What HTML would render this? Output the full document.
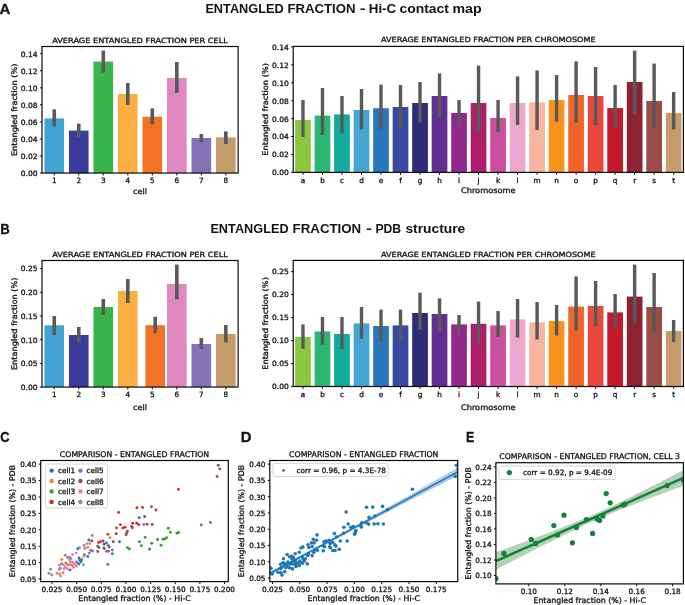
<!DOCTYPE html>
<html lang="en"><head><meta charset="utf-8"><title>Entangled fraction figure</title>
<style>
html,body{margin:0;padding:0;background:#fff;}
body{width:685px;height:605px;overflow:hidden;}
svg{display:block;}
text{white-space:pre;}
.pl text{stroke:#111;stroke-width:0.3;stroke-linejoin:round;}
</style></head><body>
<svg width="685" height="605" viewBox="0 0 685 605">
<rect width="685" height="605" fill="#fff"/>
<g class="pl" font-family="'DejaVu Sans', 'Liberation Sans', sans-serif" fill="#111">
<rect x="44.46" y="118.40" width="19.60" height="54.65" fill="#41a3d4"/>
<rect x="68.97" y="130.60" width="19.60" height="42.45" fill="#3b3b9e"/>
<rect x="93.48" y="61.60" width="19.60" height="111.45" fill="#37b44a"/>
<rect x="117.99" y="94.00" width="19.60" height="79.05" fill="#fbae42"/>
<rect x="142.50" y="116.80" width="19.60" height="56.25" fill="#f37326"/>
<rect x="167.01" y="78.00" width="19.60" height="95.05" fill="#e087c0"/>
<rect x="191.52" y="138.00" width="19.60" height="35.05" fill="#8671b9"/>
<rect x="216.03" y="137.40" width="19.60" height="35.65" fill="#c69c6d"/>
<rect x="52.46" y="109.40" width="3.60" height="17.00" fill="#595959"/>
<rect x="76.97" y="123.60" width="3.60" height="13.40" fill="#595959"/>
<rect x="101.48" y="50.60" width="3.60" height="22.00" fill="#595959"/>
<rect x="125.99" y="83.00" width="3.60" height="22.00" fill="#595959"/>
<rect x="150.50" y="108.40" width="3.60" height="16.00" fill="#595959"/>
<rect x="175.01" y="62.00" width="3.60" height="31.00" fill="#595959"/>
<rect x="199.52" y="134.00" width="3.60" height="8.40" fill="#595959"/>
<rect x="224.03" y="131.40" width="3.60" height="12.60" fill="#595959"/>
<rect x="42.00" y="46.50" width="196.10" height="126.55" fill="none" stroke="#0a0a0a" stroke-width="1.2"/>
<line x1="39.95" y1="173.05" x2="42.00" y2="173.05" stroke="#0a0a0a" stroke-width="1.0"/>
<text x="20.80" y="175.91" font-size="7.3" textLength="16.90" lengthAdjust="spacingAndGlyphs" >0.00</text>
<line x1="39.95" y1="156.00" x2="42.00" y2="156.00" stroke="#0a0a0a" stroke-width="1.0"/>
<text x="20.80" y="158.86" font-size="7.3" textLength="16.90" lengthAdjust="spacingAndGlyphs" >0.02</text>
<line x1="39.95" y1="138.95" x2="42.00" y2="138.95" stroke="#0a0a0a" stroke-width="1.0"/>
<text x="20.80" y="141.81" font-size="7.3" textLength="16.90" lengthAdjust="spacingAndGlyphs" >0.04</text>
<line x1="39.95" y1="121.90" x2="42.00" y2="121.90" stroke="#0a0a0a" stroke-width="1.0"/>
<text x="20.80" y="124.76" font-size="7.3" textLength="16.90" lengthAdjust="spacingAndGlyphs" >0.06</text>
<line x1="39.95" y1="104.85" x2="42.00" y2="104.85" stroke="#0a0a0a" stroke-width="1.0"/>
<text x="20.80" y="107.71" font-size="7.3" textLength="16.90" lengthAdjust="spacingAndGlyphs" >0.08</text>
<line x1="39.95" y1="87.80" x2="42.00" y2="87.80" stroke="#0a0a0a" stroke-width="1.0"/>
<text x="20.80" y="90.66" font-size="7.3" textLength="16.90" lengthAdjust="spacingAndGlyphs" >0.10</text>
<line x1="39.95" y1="70.75" x2="42.00" y2="70.75" stroke="#0a0a0a" stroke-width="1.0"/>
<text x="20.80" y="73.61" font-size="7.3" textLength="16.90" lengthAdjust="spacingAndGlyphs" >0.12</text>
<line x1="39.95" y1="53.70" x2="42.00" y2="53.70" stroke="#0a0a0a" stroke-width="1.0"/>
<text x="20.80" y="56.56" font-size="7.3" textLength="16.90" lengthAdjust="spacingAndGlyphs" >0.14</text>
<line x1="54.26" y1="173.05" x2="54.26" y2="175.45" stroke="#0a0a0a" stroke-width="1.0"/>
<text x="54.26" y="183.35" font-size="7.3" text-anchor="middle" >1</text>
<line x1="78.77" y1="173.05" x2="78.77" y2="175.45" stroke="#0a0a0a" stroke-width="1.0"/>
<text x="78.77" y="183.35" font-size="7.3" text-anchor="middle" >2</text>
<line x1="103.28" y1="173.05" x2="103.28" y2="175.45" stroke="#0a0a0a" stroke-width="1.0"/>
<text x="103.28" y="183.35" font-size="7.3" text-anchor="middle" >3</text>
<line x1="127.79" y1="173.05" x2="127.79" y2="175.45" stroke="#0a0a0a" stroke-width="1.0"/>
<text x="127.79" y="183.35" font-size="7.3" text-anchor="middle" >4</text>
<line x1="152.30" y1="173.05" x2="152.30" y2="175.45" stroke="#0a0a0a" stroke-width="1.0"/>
<text x="152.30" y="183.35" font-size="7.3" text-anchor="middle" >5</text>
<line x1="176.81" y1="173.05" x2="176.81" y2="175.45" stroke="#0a0a0a" stroke-width="1.0"/>
<text x="176.81" y="183.35" font-size="7.3" text-anchor="middle" >6</text>
<line x1="201.32" y1="173.05" x2="201.32" y2="175.45" stroke="#0a0a0a" stroke-width="1.0"/>
<text x="201.32" y="183.35" font-size="7.3" text-anchor="middle" >7</text>
<line x1="225.83" y1="173.05" x2="225.83" y2="175.45" stroke="#0a0a0a" stroke-width="1.0"/>
<text x="225.83" y="183.35" font-size="7.3" text-anchor="middle" >8</text>
<text x="52.15" y="42.60" font-size="7.1" textLength="175.80" lengthAdjust="spacingAndGlyphs" >AVERAGE ENTANGLED FRACTION PER CELL</text>
<text x="133.05" y="193.60" font-size="7.7" textLength="14.00" lengthAdjust="spacingAndGlyphs" >cell</text>
<text transform="translate(16.90,156.07) rotate(-90)" font-size="7.7" textLength="92.60" lengthAdjust="spacingAndGlyphs">Entangled fraction (%)</text>
<rect x="295.11" y="120.00" width="15.70" height="52.40" fill="#8cc63f"/>
<rect x="314.62" y="115.60" width="15.70" height="56.80" fill="#2cb673"/>
<rect x="334.13" y="114.40" width="15.70" height="58.00" fill="#10ab9d"/>
<rect x="353.64" y="110.00" width="15.70" height="62.40" fill="#45a5d5"/>
<rect x="373.15" y="108.20" width="15.70" height="64.20" fill="#2a76bc"/>
<rect x="392.66" y="107.00" width="15.70" height="65.40" fill="#3949a3"/>
<rect x="412.17" y="103.00" width="15.70" height="69.40" fill="#2f2b78"/>
<rect x="431.68" y="96.00" width="15.70" height="76.40" fill="#632d91"/>
<rect x="451.19" y="113.00" width="15.70" height="59.40" fill="#92278f"/>
<rect x="470.70" y="103.00" width="15.70" height="69.40" fill="#ae1f6b"/>
<rect x="490.21" y="118.00" width="15.70" height="54.40" fill="#cb4f9f"/>
<rect x="509.72" y="103.00" width="15.70" height="69.40" fill="#eda6cd"/>
<rect x="529.23" y="102.40" width="15.70" height="70.00" fill="#f8b49f"/>
<rect x="548.74" y="100.00" width="15.70" height="72.40" fill="#f7941e"/>
<rect x="568.25" y="95.00" width="15.70" height="77.40" fill="#f1632a"/>
<rect x="587.76" y="96.00" width="15.70" height="76.40" fill="#e9473b"/>
<rect x="607.27" y="108.00" width="15.70" height="64.40" fill="#c2192d"/>
<rect x="626.78" y="82.00" width="15.70" height="90.40" fill="#8b2332"/>
<rect x="646.29" y="101.00" width="15.70" height="71.40" fill="#9a4d45"/>
<rect x="665.80" y="113.00" width="15.70" height="59.40" fill="#c69c6d"/>
<rect x="301.26" y="100.00" width="3.40" height="37.00" fill="#595959"/>
<rect x="320.77" y="88.00" width="3.40" height="47.00" fill="#595959"/>
<rect x="340.28" y="96.00" width="3.40" height="37.40" fill="#595959"/>
<rect x="359.79" y="89.00" width="3.40" height="40.40" fill="#595959"/>
<rect x="379.30" y="84.60" width="3.40" height="44.80" fill="#595959"/>
<rect x="398.81" y="85.00" width="3.40" height="43.00" fill="#595959"/>
<rect x="418.32" y="82.00" width="3.40" height="40.40" fill="#595959"/>
<rect x="437.83" y="73.40" width="3.40" height="44.60" fill="#595959"/>
<rect x="457.34" y="100.00" width="3.40" height="25.60" fill="#595959"/>
<rect x="476.85" y="65.60" width="3.40" height="67.00" fill="#595959"/>
<rect x="496.36" y="100.00" width="3.40" height="32.00" fill="#595959"/>
<rect x="515.87" y="76.40" width="3.40" height="48.60" fill="#595959"/>
<rect x="535.38" y="70.40" width="3.40" height="59.60" fill="#595959"/>
<rect x="554.89" y="75.00" width="3.40" height="46.60" fill="#595959"/>
<rect x="574.40" y="61.40" width="3.40" height="61.60" fill="#595959"/>
<rect x="593.91" y="67.00" width="3.40" height="58.00" fill="#595959"/>
<rect x="613.42" y="85.00" width="3.40" height="43.00" fill="#595959"/>
<rect x="632.93" y="50.60" width="3.40" height="63.40" fill="#595959"/>
<rect x="652.44" y="63.60" width="3.40" height="64.40" fill="#595959"/>
<rect x="671.95" y="92.00" width="3.40" height="37.40" fill="#595959"/>
<rect x="293.20" y="46.40" width="390.20" height="126.00" fill="none" stroke="#0a0a0a" stroke-width="1.2"/>
<line x1="291.15" y1="172.40" x2="293.20" y2="172.40" stroke="#0a0a0a" stroke-width="1.0"/>
<text x="272.00" y="175.26" font-size="7.3" textLength="16.90" lengthAdjust="spacingAndGlyphs" >0.00</text>
<line x1="291.15" y1="154.48" x2="293.20" y2="154.48" stroke="#0a0a0a" stroke-width="1.0"/>
<text x="272.00" y="157.34" font-size="7.3" textLength="16.90" lengthAdjust="spacingAndGlyphs" >0.02</text>
<line x1="291.15" y1="136.56" x2="293.20" y2="136.56" stroke="#0a0a0a" stroke-width="1.0"/>
<text x="272.00" y="139.42" font-size="7.3" textLength="16.90" lengthAdjust="spacingAndGlyphs" >0.04</text>
<line x1="291.15" y1="118.64" x2="293.20" y2="118.64" stroke="#0a0a0a" stroke-width="1.0"/>
<text x="272.00" y="121.50" font-size="7.3" textLength="16.90" lengthAdjust="spacingAndGlyphs" >0.06</text>
<line x1="291.15" y1="100.72" x2="293.20" y2="100.72" stroke="#0a0a0a" stroke-width="1.0"/>
<text x="272.00" y="103.58" font-size="7.3" textLength="16.90" lengthAdjust="spacingAndGlyphs" >0.08</text>
<line x1="291.15" y1="82.80" x2="293.20" y2="82.80" stroke="#0a0a0a" stroke-width="1.0"/>
<text x="272.00" y="85.66" font-size="7.3" textLength="16.90" lengthAdjust="spacingAndGlyphs" >0.10</text>
<line x1="291.15" y1="64.88" x2="293.20" y2="64.88" stroke="#0a0a0a" stroke-width="1.0"/>
<text x="272.00" y="67.74" font-size="7.3" textLength="16.90" lengthAdjust="spacingAndGlyphs" >0.12</text>
<line x1="291.15" y1="46.96" x2="293.20" y2="46.96" stroke="#0a0a0a" stroke-width="1.0"/>
<text x="272.00" y="49.82" font-size="7.3" textLength="16.90" lengthAdjust="spacingAndGlyphs" >0.14</text>
<line x1="302.96" y1="172.40" x2="302.96" y2="174.80" stroke="#0a0a0a" stroke-width="1.0"/>
<text x="302.96" y="182.70" font-size="7.3" text-anchor="middle" >a</text>
<line x1="322.47" y1="172.40" x2="322.47" y2="174.80" stroke="#0a0a0a" stroke-width="1.0"/>
<text x="322.47" y="182.70" font-size="7.3" text-anchor="middle" >b</text>
<line x1="341.98" y1="172.40" x2="341.98" y2="174.80" stroke="#0a0a0a" stroke-width="1.0"/>
<text x="341.98" y="182.70" font-size="7.3" text-anchor="middle" >c</text>
<line x1="361.49" y1="172.40" x2="361.49" y2="174.80" stroke="#0a0a0a" stroke-width="1.0"/>
<text x="361.49" y="182.70" font-size="7.3" text-anchor="middle" >d</text>
<line x1="381.00" y1="172.40" x2="381.00" y2="174.80" stroke="#0a0a0a" stroke-width="1.0"/>
<text x="381.00" y="182.70" font-size="7.3" text-anchor="middle" >e</text>
<line x1="400.51" y1="172.40" x2="400.51" y2="174.80" stroke="#0a0a0a" stroke-width="1.0"/>
<text x="400.51" y="182.70" font-size="7.3" text-anchor="middle" >f</text>
<line x1="420.02" y1="172.40" x2="420.02" y2="174.80" stroke="#0a0a0a" stroke-width="1.0"/>
<text x="420.02" y="182.70" font-size="7.3" text-anchor="middle" >g</text>
<line x1="439.53" y1="172.40" x2="439.53" y2="174.80" stroke="#0a0a0a" stroke-width="1.0"/>
<text x="439.53" y="182.70" font-size="7.3" text-anchor="middle" >h</text>
<line x1="459.04" y1="172.40" x2="459.04" y2="174.80" stroke="#0a0a0a" stroke-width="1.0"/>
<text x="459.04" y="182.70" font-size="7.3" text-anchor="middle" >i</text>
<line x1="478.55" y1="172.40" x2="478.55" y2="174.80" stroke="#0a0a0a" stroke-width="1.0"/>
<text x="478.55" y="182.70" font-size="7.3" text-anchor="middle" >j</text>
<line x1="498.06" y1="172.40" x2="498.06" y2="174.80" stroke="#0a0a0a" stroke-width="1.0"/>
<text x="498.06" y="182.70" font-size="7.3" text-anchor="middle" >k</text>
<line x1="517.57" y1="172.40" x2="517.57" y2="174.80" stroke="#0a0a0a" stroke-width="1.0"/>
<text x="517.57" y="182.70" font-size="7.3" text-anchor="middle" >l</text>
<line x1="537.08" y1="172.40" x2="537.08" y2="174.80" stroke="#0a0a0a" stroke-width="1.0"/>
<text x="537.08" y="182.70" font-size="7.3" text-anchor="middle" >m</text>
<line x1="556.59" y1="172.40" x2="556.59" y2="174.80" stroke="#0a0a0a" stroke-width="1.0"/>
<text x="556.59" y="182.70" font-size="7.3" text-anchor="middle" >n</text>
<line x1="576.10" y1="172.40" x2="576.10" y2="174.80" stroke="#0a0a0a" stroke-width="1.0"/>
<text x="576.10" y="182.70" font-size="7.3" text-anchor="middle" >o</text>
<line x1="595.61" y1="172.40" x2="595.61" y2="174.80" stroke="#0a0a0a" stroke-width="1.0"/>
<text x="595.61" y="182.70" font-size="7.3" text-anchor="middle" >p</text>
<line x1="615.12" y1="172.40" x2="615.12" y2="174.80" stroke="#0a0a0a" stroke-width="1.0"/>
<text x="615.12" y="182.70" font-size="7.3" text-anchor="middle" >q</text>
<line x1="634.63" y1="172.40" x2="634.63" y2="174.80" stroke="#0a0a0a" stroke-width="1.0"/>
<text x="634.63" y="182.70" font-size="7.3" text-anchor="middle" >r</text>
<line x1="654.14" y1="172.40" x2="654.14" y2="174.80" stroke="#0a0a0a" stroke-width="1.0"/>
<text x="654.14" y="182.70" font-size="7.3" text-anchor="middle" >s</text>
<line x1="673.65" y1="172.40" x2="673.65" y2="174.80" stroke="#0a0a0a" stroke-width="1.0"/>
<text x="673.65" y="182.70" font-size="7.3" text-anchor="middle" >t</text>
<text x="381.00" y="42.40" font-size="7.1" textLength="214.60" lengthAdjust="spacingAndGlyphs" >AVERAGE ENTANGLED FRACTION PER CHROMOSOME</text>
<text x="460.90" y="192.70" font-size="7.7" textLength="54.80" lengthAdjust="spacingAndGlyphs" >Chromosome</text>
<text transform="translate(267.80,155.70) rotate(-90)" font-size="7.7" textLength="92.60" lengthAdjust="spacingAndGlyphs">Entangled fraction (%)</text>
<rect x="44.46" y="325.30" width="19.60" height="61.75" fill="#41a3d4"/>
<rect x="68.97" y="335.00" width="19.60" height="52.05" fill="#3b3b9e"/>
<rect x="93.48" y="307.00" width="19.60" height="80.05" fill="#37b44a"/>
<rect x="117.99" y="291.00" width="19.60" height="96.05" fill="#fbae42"/>
<rect x="145.40" y="325.20" width="19.60" height="61.85" fill="#f37326"/>
<rect x="167.01" y="284.00" width="19.60" height="103.05" fill="#e087c0"/>
<rect x="191.52" y="344.00" width="19.60" height="43.05" fill="#8671b9"/>
<rect x="216.03" y="334.00" width="19.60" height="53.05" fill="#c69c6d"/>
<rect x="52.46" y="316.00" width="3.60" height="19.00" fill="#595959"/>
<rect x="76.97" y="327.00" width="3.60" height="15.60" fill="#595959"/>
<rect x="101.48" y="299.00" width="3.60" height="16.00" fill="#595959"/>
<rect x="125.99" y="279.00" width="3.60" height="24.00" fill="#595959"/>
<rect x="153.40" y="316.80" width="3.60" height="16.40" fill="#595959"/>
<rect x="175.01" y="264.60" width="3.60" height="34.80" fill="#595959"/>
<rect x="199.52" y="338.00" width="3.60" height="11.00" fill="#595959"/>
<rect x="224.03" y="325.00" width="3.60" height="17.40" fill="#595959"/>
<rect x="42.00" y="260.50" width="196.10" height="126.55" fill="none" stroke="#0a0a0a" stroke-width="1.2"/>
<line x1="39.95" y1="387.10" x2="42.00" y2="387.10" stroke="#0a0a0a" stroke-width="1.0"/>
<text x="20.80" y="389.96" font-size="7.3" textLength="16.90" lengthAdjust="spacingAndGlyphs" >0.00</text>
<line x1="39.95" y1="363.40" x2="42.00" y2="363.40" stroke="#0a0a0a" stroke-width="1.0"/>
<text x="20.80" y="366.26" font-size="7.3" textLength="16.90" lengthAdjust="spacingAndGlyphs" >0.05</text>
<line x1="39.95" y1="339.70" x2="42.00" y2="339.70" stroke="#0a0a0a" stroke-width="1.0"/>
<text x="20.80" y="342.56" font-size="7.3" textLength="16.90" lengthAdjust="spacingAndGlyphs" >0.10</text>
<line x1="39.95" y1="316.00" x2="42.00" y2="316.00" stroke="#0a0a0a" stroke-width="1.0"/>
<text x="20.80" y="318.86" font-size="7.3" textLength="16.90" lengthAdjust="spacingAndGlyphs" >0.15</text>
<line x1="39.95" y1="292.30" x2="42.00" y2="292.30" stroke="#0a0a0a" stroke-width="1.0"/>
<text x="20.80" y="295.16" font-size="7.3" textLength="16.90" lengthAdjust="spacingAndGlyphs" >0.20</text>
<line x1="39.95" y1="268.60" x2="42.00" y2="268.60" stroke="#0a0a0a" stroke-width="1.0"/>
<text x="20.80" y="271.46" font-size="7.3" textLength="16.90" lengthAdjust="spacingAndGlyphs" >0.25</text>
<line x1="54.26" y1="387.05" x2="54.26" y2="389.45" stroke="#0a0a0a" stroke-width="1.0"/>
<text x="54.26" y="397.35" font-size="7.3" text-anchor="middle" >1</text>
<line x1="78.77" y1="387.05" x2="78.77" y2="389.45" stroke="#0a0a0a" stroke-width="1.0"/>
<text x="78.77" y="397.35" font-size="7.3" text-anchor="middle" >2</text>
<line x1="103.28" y1="387.05" x2="103.28" y2="389.45" stroke="#0a0a0a" stroke-width="1.0"/>
<text x="103.28" y="397.35" font-size="7.3" text-anchor="middle" >3</text>
<line x1="127.79" y1="387.05" x2="127.79" y2="389.45" stroke="#0a0a0a" stroke-width="1.0"/>
<text x="127.79" y="397.35" font-size="7.3" text-anchor="middle" >4</text>
<line x1="152.30" y1="387.05" x2="152.30" y2="389.45" stroke="#0a0a0a" stroke-width="1.0"/>
<text x="152.30" y="397.35" font-size="7.3" text-anchor="middle" >5</text>
<line x1="176.81" y1="387.05" x2="176.81" y2="389.45" stroke="#0a0a0a" stroke-width="1.0"/>
<text x="176.81" y="397.35" font-size="7.3" text-anchor="middle" >6</text>
<line x1="201.32" y1="387.05" x2="201.32" y2="389.45" stroke="#0a0a0a" stroke-width="1.0"/>
<text x="201.32" y="397.35" font-size="7.3" text-anchor="middle" >7</text>
<line x1="225.83" y1="387.05" x2="225.83" y2="389.45" stroke="#0a0a0a" stroke-width="1.0"/>
<text x="225.83" y="397.35" font-size="7.3" text-anchor="middle" >8</text>
<text x="52.15" y="256.60" font-size="7.1" textLength="175.80" lengthAdjust="spacingAndGlyphs" >AVERAGE ENTANGLED FRACTION PER CELL</text>
<text x="133.05" y="410.40" font-size="7.7" textLength="14.00" lengthAdjust="spacingAndGlyphs" >cell</text>
<text transform="translate(16.90,370.07) rotate(-90)" font-size="7.7" textLength="92.60" lengthAdjust="spacingAndGlyphs">Entangled fraction (%)</text>
<rect x="295.11" y="337.00" width="15.70" height="49.50" fill="#8cc63f"/>
<rect x="314.62" y="331.40" width="15.70" height="55.10" fill="#2cb673"/>
<rect x="334.13" y="334.00" width="15.70" height="52.50" fill="#10ab9d"/>
<rect x="353.64" y="323.40" width="15.70" height="63.10" fill="#45a5d5"/>
<rect x="373.15" y="326.00" width="15.70" height="60.50" fill="#2a76bc"/>
<rect x="392.66" y="325.40" width="15.70" height="61.10" fill="#3949a3"/>
<rect x="412.17" y="313.00" width="15.70" height="73.50" fill="#2f2b78"/>
<rect x="431.68" y="314.00" width="15.70" height="72.50" fill="#632d91"/>
<rect x="451.19" y="324.40" width="15.70" height="62.10" fill="#92278f"/>
<rect x="470.70" y="323.80" width="15.70" height="62.70" fill="#ae1f6b"/>
<rect x="490.21" y="325.40" width="15.70" height="61.10" fill="#cb4f9f"/>
<rect x="509.72" y="319.40" width="15.70" height="67.10" fill="#eda6cd"/>
<rect x="529.23" y="322.40" width="15.70" height="64.10" fill="#f8b49f"/>
<rect x="548.74" y="321.00" width="15.70" height="65.50" fill="#f7941e"/>
<rect x="568.25" y="306.60" width="15.70" height="79.90" fill="#f1632a"/>
<rect x="587.76" y="306.00" width="15.70" height="80.50" fill="#e9473b"/>
<rect x="607.27" y="312.40" width="15.70" height="74.10" fill="#c2192d"/>
<rect x="626.78" y="296.60" width="15.70" height="89.90" fill="#8b2332"/>
<rect x="646.29" y="307.00" width="15.70" height="79.50" fill="#9a4d45"/>
<rect x="665.80" y="331.00" width="15.70" height="55.50" fill="#c69c6d"/>
<rect x="301.26" y="324.40" width="3.40" height="24.60" fill="#595959"/>
<rect x="320.77" y="317.00" width="3.40" height="27.60" fill="#595959"/>
<rect x="340.28" y="317.00" width="3.40" height="32.00" fill="#595959"/>
<rect x="359.79" y="307.00" width="3.40" height="31.60" fill="#595959"/>
<rect x="379.30" y="309.60" width="3.40" height="32.00" fill="#595959"/>
<rect x="398.81" y="309.60" width="3.40" height="32.00" fill="#595959"/>
<rect x="418.32" y="292.60" width="3.40" height="37.40" fill="#595959"/>
<rect x="437.83" y="298.40" width="3.40" height="33.00" fill="#595959"/>
<rect x="457.34" y="315.00" width="3.40" height="20.00" fill="#595959"/>
<rect x="476.85" y="301.60" width="3.40" height="41.40" fill="#595959"/>
<rect x="496.36" y="311.00" width="3.40" height="26.00" fill="#595959"/>
<rect x="515.87" y="299.00" width="3.40" height="38.60" fill="#595959"/>
<rect x="535.38" y="302.00" width="3.40" height="37.60" fill="#595959"/>
<rect x="554.89" y="305.00" width="3.40" height="30.60" fill="#595959"/>
<rect x="574.40" y="276.40" width="3.40" height="54.20" fill="#595959"/>
<rect x="593.91" y="281.00" width="3.40" height="45.00" fill="#595959"/>
<rect x="613.42" y="294.00" width="3.40" height="35.00" fill="#595959"/>
<rect x="632.93" y="264.60" width="3.40" height="58.80" fill="#595959"/>
<rect x="652.44" y="273.00" width="3.40" height="60.00" fill="#595959"/>
<rect x="671.95" y="320.00" width="3.40" height="22.00" fill="#595959"/>
<rect x="293.20" y="260.40" width="390.20" height="126.10" fill="none" stroke="#0a0a0a" stroke-width="1.2"/>
<line x1="291.15" y1="386.60" x2="293.20" y2="386.60" stroke="#0a0a0a" stroke-width="1.0"/>
<text x="272.00" y="389.46" font-size="7.3" textLength="16.90" lengthAdjust="spacingAndGlyphs" >0.00</text>
<line x1="291.15" y1="363.60" x2="293.20" y2="363.60" stroke="#0a0a0a" stroke-width="1.0"/>
<text x="272.00" y="366.46" font-size="7.3" textLength="16.90" lengthAdjust="spacingAndGlyphs" >0.05</text>
<line x1="291.15" y1="340.60" x2="293.20" y2="340.60" stroke="#0a0a0a" stroke-width="1.0"/>
<text x="272.00" y="343.46" font-size="7.3" textLength="16.90" lengthAdjust="spacingAndGlyphs" >0.10</text>
<line x1="291.15" y1="317.60" x2="293.20" y2="317.60" stroke="#0a0a0a" stroke-width="1.0"/>
<text x="272.00" y="320.46" font-size="7.3" textLength="16.90" lengthAdjust="spacingAndGlyphs" >0.15</text>
<line x1="291.15" y1="294.60" x2="293.20" y2="294.60" stroke="#0a0a0a" stroke-width="1.0"/>
<text x="272.00" y="297.46" font-size="7.3" textLength="16.90" lengthAdjust="spacingAndGlyphs" >0.20</text>
<line x1="291.15" y1="271.60" x2="293.20" y2="271.60" stroke="#0a0a0a" stroke-width="1.0"/>
<text x="272.00" y="274.46" font-size="7.3" textLength="16.90" lengthAdjust="spacingAndGlyphs" >0.25</text>
<line x1="302.96" y1="386.50" x2="302.96" y2="388.90" stroke="#0a0a0a" stroke-width="1.0"/>
<text x="302.96" y="396.80" font-size="7.3" text-anchor="middle" >a</text>
<line x1="322.47" y1="386.50" x2="322.47" y2="388.90" stroke="#0a0a0a" stroke-width="1.0"/>
<text x="322.47" y="396.80" font-size="7.3" text-anchor="middle" >b</text>
<line x1="341.98" y1="386.50" x2="341.98" y2="388.90" stroke="#0a0a0a" stroke-width="1.0"/>
<text x="341.98" y="396.80" font-size="7.3" text-anchor="middle" >c</text>
<line x1="361.49" y1="386.50" x2="361.49" y2="388.90" stroke="#0a0a0a" stroke-width="1.0"/>
<text x="361.49" y="396.80" font-size="7.3" text-anchor="middle" >d</text>
<line x1="381.00" y1="386.50" x2="381.00" y2="388.90" stroke="#0a0a0a" stroke-width="1.0"/>
<text x="381.00" y="396.80" font-size="7.3" text-anchor="middle" >e</text>
<line x1="400.51" y1="386.50" x2="400.51" y2="388.90" stroke="#0a0a0a" stroke-width="1.0"/>
<text x="400.51" y="396.80" font-size="7.3" text-anchor="middle" >f</text>
<line x1="420.02" y1="386.50" x2="420.02" y2="388.90" stroke="#0a0a0a" stroke-width="1.0"/>
<text x="420.02" y="396.80" font-size="7.3" text-anchor="middle" >g</text>
<line x1="439.53" y1="386.50" x2="439.53" y2="388.90" stroke="#0a0a0a" stroke-width="1.0"/>
<text x="439.53" y="396.80" font-size="7.3" text-anchor="middle" >h</text>
<line x1="459.04" y1="386.50" x2="459.04" y2="388.90" stroke="#0a0a0a" stroke-width="1.0"/>
<text x="459.04" y="396.80" font-size="7.3" text-anchor="middle" >i</text>
<line x1="478.55" y1="386.50" x2="478.55" y2="388.90" stroke="#0a0a0a" stroke-width="1.0"/>
<text x="478.55" y="396.80" font-size="7.3" text-anchor="middle" >j</text>
<line x1="498.06" y1="386.50" x2="498.06" y2="388.90" stroke="#0a0a0a" stroke-width="1.0"/>
<text x="498.06" y="396.80" font-size="7.3" text-anchor="middle" >k</text>
<line x1="517.57" y1="386.50" x2="517.57" y2="388.90" stroke="#0a0a0a" stroke-width="1.0"/>
<text x="517.57" y="396.80" font-size="7.3" text-anchor="middle" >l</text>
<line x1="537.08" y1="386.50" x2="537.08" y2="388.90" stroke="#0a0a0a" stroke-width="1.0"/>
<text x="537.08" y="396.80" font-size="7.3" text-anchor="middle" >m</text>
<line x1="556.59" y1="386.50" x2="556.59" y2="388.90" stroke="#0a0a0a" stroke-width="1.0"/>
<text x="556.59" y="396.80" font-size="7.3" text-anchor="middle" >n</text>
<line x1="576.10" y1="386.50" x2="576.10" y2="388.90" stroke="#0a0a0a" stroke-width="1.0"/>
<text x="576.10" y="396.80" font-size="7.3" text-anchor="middle" >o</text>
<line x1="595.61" y1="386.50" x2="595.61" y2="388.90" stroke="#0a0a0a" stroke-width="1.0"/>
<text x="595.61" y="396.80" font-size="7.3" text-anchor="middle" >p</text>
<line x1="615.12" y1="386.50" x2="615.12" y2="388.90" stroke="#0a0a0a" stroke-width="1.0"/>
<text x="615.12" y="396.80" font-size="7.3" text-anchor="middle" >q</text>
<line x1="634.63" y1="386.50" x2="634.63" y2="388.90" stroke="#0a0a0a" stroke-width="1.0"/>
<text x="634.63" y="396.80" font-size="7.3" text-anchor="middle" >r</text>
<line x1="654.14" y1="386.50" x2="654.14" y2="388.90" stroke="#0a0a0a" stroke-width="1.0"/>
<text x="654.14" y="396.80" font-size="7.3" text-anchor="middle" >s</text>
<line x1="673.65" y1="386.50" x2="673.65" y2="388.90" stroke="#0a0a0a" stroke-width="1.0"/>
<text x="673.65" y="396.80" font-size="7.3" text-anchor="middle" >t</text>
<text x="381.00" y="256.60" font-size="7.1" textLength="214.60" lengthAdjust="spacingAndGlyphs" >AVERAGE ENTANGLED FRACTION PER CHROMOSOME</text>
<text x="460.90" y="409.60" font-size="7.7" textLength="54.80" lengthAdjust="spacingAndGlyphs" >Chromosome</text>
<text transform="translate(267.80,369.75) rotate(-90)" font-size="7.7" textLength="92.60" lengthAdjust="spacingAndGlyphs">Entangled fraction (%)</text>
<circle cx="70.1" cy="569.9" r="1.45" fill="#1f77b4"/>
<circle cx="79.0" cy="557.9" r="1.45" fill="#1f77b4"/>
<circle cx="79.8" cy="560.1" r="1.45" fill="#1f77b4"/>
<circle cx="81.6" cy="559.7" r="1.45" fill="#1f77b4"/>
<circle cx="80.9" cy="561.9" r="1.45" fill="#1f77b4"/>
<circle cx="79.0" cy="564.1" r="1.45" fill="#1f77b4"/>
<circle cx="77.7" cy="548.8" r="1.45" fill="#1f77b4"/>
<circle cx="87.8" cy="556.4" r="1.45" fill="#1f77b4"/>
<circle cx="88.9" cy="540.0" r="1.45" fill="#1f77b4"/>
<circle cx="99.1" cy="547.6" r="1.45" fill="#1f77b4"/>
<circle cx="104.0" cy="544.3" r="1.45" fill="#1f77b4"/>
<circle cx="106.4" cy="543.0" r="1.45" fill="#1f77b4"/>
<circle cx="108.3" cy="545.6" r="1.45" fill="#1f77b4"/>
<circle cx="119.5" cy="541.7" r="1.45" fill="#1f77b4"/>
<circle cx="139.2" cy="517.8" r="1.45" fill="#1f77b4"/>
<circle cx="57.0" cy="573.2" r="1.45" fill="#ff7f0e"/>
<circle cx="63.0" cy="572.8" r="1.45" fill="#ff7f0e"/>
<circle cx="61.9" cy="559.6" r="1.45" fill="#ff7f0e"/>
<circle cx="67.4" cy="564.8" r="1.45" fill="#ff7f0e"/>
<circle cx="69.5" cy="564.8" r="1.45" fill="#ff7f0e"/>
<circle cx="72.1" cy="565.2" r="1.45" fill="#ff7f0e"/>
<circle cx="83.8" cy="556.4" r="1.45" fill="#ff7f0e"/>
<circle cx="87.8" cy="547.3" r="1.45" fill="#ff7f0e"/>
<circle cx="89.6" cy="543.6" r="1.45" fill="#ff7f0e"/>
<circle cx="103.7" cy="547.6" r="1.45" fill="#ff7f0e"/>
<circle cx="110.0" cy="537.7" r="1.45" fill="#ff7f0e"/>
<circle cx="112.3" cy="553.8" r="1.45" fill="#2ca02c"/>
<circle cx="107.9" cy="564.4" r="1.45" fill="#2ca02c"/>
<circle cx="127.4" cy="547.6" r="1.45" fill="#2ca02c"/>
<circle cx="129.4" cy="548.9" r="1.45" fill="#2ca02c"/>
<circle cx="139.5" cy="541.7" r="1.45" fill="#2ca02c"/>
<circle cx="141.4" cy="545.8" r="1.45" fill="#2ca02c"/>
<circle cx="145.1" cy="537.4" r="1.45" fill="#2ca02c"/>
<circle cx="149.6" cy="549.2" r="1.45" fill="#2ca02c"/>
<circle cx="151.7" cy="543.2" r="1.45" fill="#2ca02c"/>
<circle cx="157.5" cy="539.5" r="1.45" fill="#2ca02c"/>
<circle cx="161.0" cy="545.3" r="1.45" fill="#2ca02c"/>
<circle cx="163.1" cy="539.3" r="1.45" fill="#2ca02c"/>
<circle cx="164.8" cy="538.9" r="1.45" fill="#2ca02c"/>
<circle cx="166.6" cy="537.6" r="1.45" fill="#2ca02c"/>
<circle cx="168.3" cy="528.3" r="1.45" fill="#2ca02c"/>
<circle cx="170.4" cy="532.2" r="1.45" fill="#2ca02c"/>
<circle cx="176.9" cy="533.3" r="1.45" fill="#2ca02c"/>
<circle cx="178.6" cy="532.4" r="1.45" fill="#2ca02c"/>
<circle cx="201.2" cy="524.9" r="1.45" fill="#2ca02c"/>
<circle cx="210.4" cy="522.5" r="1.45" fill="#2ca02c"/>
<circle cx="91.8" cy="540.9" r="1.45" fill="#d62728"/>
<circle cx="98.5" cy="542.6" r="1.45" fill="#d62728"/>
<circle cx="100.4" cy="541.7" r="1.45" fill="#d62728"/>
<circle cx="103.1" cy="541.0" r="1.45" fill="#d62728"/>
<circle cx="116.2" cy="533.8" r="1.45" fill="#d62728"/>
<circle cx="120.4" cy="524.6" r="1.45" fill="#d62728"/>
<circle cx="122.8" cy="527.9" r="1.45" fill="#d62728"/>
<circle cx="125.1" cy="527.2" r="1.45" fill="#d62728"/>
<circle cx="118.6" cy="512.4" r="1.45" fill="#d62728"/>
<circle cx="178.4" cy="489.4" r="1.45" fill="#d62728"/>
<circle cx="136.9" cy="507.7" r="1.45" fill="#d62728"/>
<circle cx="142.5" cy="507.5" r="1.45" fill="#d62728"/>
<circle cx="156.0" cy="510.0" r="1.45" fill="#d62728"/>
<circle cx="132.6" cy="523.2" r="1.45" fill="#d62728"/>
<circle cx="136.7" cy="523.2" r="1.45" fill="#d62728"/>
<circle cx="138.8" cy="524.7" r="1.45" fill="#d62728"/>
<circle cx="76.5" cy="561.9" r="1.45" fill="#9467bd"/>
<circle cx="77.9" cy="563.4" r="1.45" fill="#9467bd"/>
<circle cx="84.4" cy="554.6" r="1.45" fill="#9467bd"/>
<circle cx="89.3" cy="553.1" r="1.45" fill="#9467bd"/>
<circle cx="90.7" cy="550.2" r="1.45" fill="#9467bd"/>
<circle cx="92.5" cy="551.0" r="1.45" fill="#9467bd"/>
<circle cx="106.4" cy="551.3" r="1.45" fill="#9467bd"/>
<circle cx="108.6" cy="551.3" r="1.45" fill="#9467bd"/>
<circle cx="112.3" cy="550.0" r="1.45" fill="#9467bd"/>
<circle cx="143.8" cy="524.5" r="1.45" fill="#9467bd"/>
<circle cx="97.8" cy="546.3" r="1.45" fill="#8c564b"/>
<circle cx="97.8" cy="551.5" r="1.45" fill="#8c564b"/>
<circle cx="104.3" cy="548.6" r="1.45" fill="#8c564b"/>
<circle cx="109.3" cy="546.9" r="1.45" fill="#8c564b"/>
<circle cx="107.9" cy="534.2" r="1.45" fill="#8c564b"/>
<circle cx="113.3" cy="541.7" r="1.45" fill="#8c564b"/>
<circle cx="116.5" cy="527.9" r="1.45" fill="#8c564b"/>
<circle cx="127.4" cy="531.2" r="1.45" fill="#8c564b"/>
<circle cx="126.7" cy="533.1" r="1.45" fill="#8c564b"/>
<circle cx="126.1" cy="534.8" r="1.45" fill="#8c564b"/>
<circle cx="218.2" cy="465.3" r="1.45" fill="#8c564b"/>
<circle cx="219.7" cy="469.0" r="1.45" fill="#8c564b"/>
<circle cx="217.1" cy="476.5" r="1.45" fill="#8c564b"/>
<circle cx="151.5" cy="506.8" r="1.45" fill="#8c564b"/>
<circle cx="144.6" cy="516.5" r="1.45" fill="#8c564b"/>
<circle cx="147.2" cy="524.2" r="1.45" fill="#8c564b"/>
<circle cx="152.2" cy="524.5" r="1.45" fill="#8c564b"/>
<circle cx="131.5" cy="526.4" r="1.45" fill="#8c564b"/>
<circle cx="132.4" cy="527.7" r="1.45" fill="#8c564b"/>
<circle cx="59.7" cy="573.9" r="1.45" fill="#e377c2"/>
<circle cx="60.6" cy="576.1" r="1.45" fill="#e377c2"/>
<circle cx="59.3" cy="565.2" r="1.45" fill="#e377c2"/>
<circle cx="63.3" cy="564.8" r="1.45" fill="#e377c2"/>
<circle cx="64.1" cy="568.8" r="1.45" fill="#e377c2"/>
<circle cx="65.2" cy="567.0" r="1.45" fill="#e377c2"/>
<circle cx="69.5" cy="559.7" r="1.45" fill="#e377c2"/>
<circle cx="67.4" cy="568.8" r="1.45" fill="#e377c2"/>
<circle cx="70.6" cy="561.9" r="1.45" fill="#e377c2"/>
<circle cx="72.8" cy="562.3" r="1.45" fill="#e377c2"/>
<circle cx="73.2" cy="567.4" r="1.45" fill="#e377c2"/>
<circle cx="74.7" cy="564.1" r="1.45" fill="#e377c2"/>
<circle cx="76.1" cy="566.3" r="1.45" fill="#e377c2"/>
<circle cx="72.5" cy="554.6" r="1.45" fill="#e377c2"/>
<circle cx="76.1" cy="553.1" r="1.45" fill="#e377c2"/>
<circle cx="87.1" cy="543.6" r="1.45" fill="#e377c2"/>
<circle cx="50.6" cy="569.2" r="1.45" fill="#8f8f8f"/>
<circle cx="49.0" cy="573.2" r="1.45" fill="#8f8f8f"/>
<circle cx="51.7" cy="574.9" r="1.45" fill="#8f8f8f"/>
<circle cx="59.3" cy="569.6" r="1.45" fill="#8f8f8f"/>
<circle cx="60.4" cy="568.1" r="1.45" fill="#8f8f8f"/>
<circle cx="61.5" cy="563.7" r="1.45" fill="#8f8f8f"/>
<circle cx="65.9" cy="563.0" r="1.45" fill="#8f8f8f"/>
<circle cx="65.2" cy="555.3" r="1.45" fill="#8f8f8f"/>
<circle cx="67.4" cy="557.5" r="1.45" fill="#8f8f8f"/>
<circle cx="69.5" cy="557.2" r="1.45" fill="#8f8f8f"/>
<circle cx="71.0" cy="558.6" r="1.45" fill="#8f8f8f"/>
<circle cx="83.4" cy="564.8" r="1.45" fill="#8f8f8f"/>
<circle cx="79.5" cy="547.7" r="1.45" fill="#8f8f8f"/>
<circle cx="84.1" cy="545.5" r="1.45" fill="#8f8f8f"/>
<circle cx="84.9" cy="548.4" r="1.45" fill="#8f8f8f"/>
<circle cx="92.2" cy="535.5" r="1.45" fill="#8f8f8f"/>
<rect x="40.70" y="460.50" width="187.60" height="121.10" fill="none" stroke="#0a0a0a" stroke-width="1.2"/>
<line x1="38.65" y1="579.00" x2="40.70" y2="579.00" stroke="#0a0a0a" stroke-width="1.0"/>
<text x="20.15" y="581.86" font-size="7.3" textLength="16.25" lengthAdjust="spacingAndGlyphs" >0.05</text>
<line x1="38.65" y1="562.60" x2="40.70" y2="562.60" stroke="#0a0a0a" stroke-width="1.0"/>
<text x="20.15" y="565.46" font-size="7.3" textLength="16.25" lengthAdjust="spacingAndGlyphs" >0.10</text>
<line x1="38.65" y1="546.19" x2="40.70" y2="546.19" stroke="#0a0a0a" stroke-width="1.0"/>
<text x="20.15" y="549.05" font-size="7.3" textLength="16.25" lengthAdjust="spacingAndGlyphs" >0.15</text>
<line x1="38.65" y1="529.78" x2="40.70" y2="529.78" stroke="#0a0a0a" stroke-width="1.0"/>
<text x="20.15" y="532.65" font-size="7.3" textLength="16.25" lengthAdjust="spacingAndGlyphs" >0.20</text>
<line x1="38.65" y1="513.38" x2="40.70" y2="513.38" stroke="#0a0a0a" stroke-width="1.0"/>
<text x="20.15" y="516.24" font-size="7.3" textLength="16.25" lengthAdjust="spacingAndGlyphs" >0.25</text>
<line x1="38.65" y1="496.98" x2="40.70" y2="496.98" stroke="#0a0a0a" stroke-width="1.0"/>
<text x="20.15" y="499.84" font-size="7.3" textLength="16.25" lengthAdjust="spacingAndGlyphs" >0.30</text>
<line x1="38.65" y1="480.57" x2="40.70" y2="480.57" stroke="#0a0a0a" stroke-width="1.0"/>
<text x="20.15" y="483.43" font-size="7.3" textLength="16.25" lengthAdjust="spacingAndGlyphs" >0.35</text>
<line x1="38.65" y1="464.16" x2="40.70" y2="464.16" stroke="#0a0a0a" stroke-width="1.0"/>
<text x="20.15" y="467.03" font-size="7.3" textLength="16.25" lengthAdjust="spacingAndGlyphs" >0.40</text>
<line x1="52.00" y1="581.60" x2="52.00" y2="584.00" stroke="#0a0a0a" stroke-width="1.0"/>
<text x="41.55" y="591.50" font-size="7.3" textLength="20.90" lengthAdjust="spacingAndGlyphs" >0.025</text>
<line x1="76.65" y1="581.60" x2="76.65" y2="584.00" stroke="#0a0a0a" stroke-width="1.0"/>
<text x="66.20" y="591.50" font-size="7.3" textLength="20.90" lengthAdjust="spacingAndGlyphs" >0.050</text>
<line x1="101.30" y1="581.60" x2="101.30" y2="584.00" stroke="#0a0a0a" stroke-width="1.0"/>
<text x="90.85" y="591.50" font-size="7.3" textLength="20.90" lengthAdjust="spacingAndGlyphs" >0.075</text>
<line x1="125.95" y1="581.60" x2="125.95" y2="584.00" stroke="#0a0a0a" stroke-width="1.0"/>
<text x="115.50" y="591.50" font-size="7.3" textLength="20.90" lengthAdjust="spacingAndGlyphs" >0.100</text>
<line x1="150.60" y1="581.60" x2="150.60" y2="584.00" stroke="#0a0a0a" stroke-width="1.0"/>
<text x="140.15" y="591.50" font-size="7.3" textLength="20.90" lengthAdjust="spacingAndGlyphs" >0.125</text>
<line x1="175.25" y1="581.60" x2="175.25" y2="584.00" stroke="#0a0a0a" stroke-width="1.0"/>
<text x="164.80" y="591.50" font-size="7.3" textLength="20.90" lengthAdjust="spacingAndGlyphs" >0.150</text>
<line x1="199.90" y1="581.60" x2="199.90" y2="584.00" stroke="#0a0a0a" stroke-width="1.0"/>
<text x="189.45" y="591.50" font-size="7.3" textLength="20.90" lengthAdjust="spacingAndGlyphs" >0.175</text>
<line x1="224.55" y1="581.60" x2="224.55" y2="584.00" stroke="#0a0a0a" stroke-width="1.0"/>
<text x="214.10" y="591.50" font-size="7.3" textLength="20.90" lengthAdjust="spacingAndGlyphs" >0.200</text>
<text x="134.50" y="457.00" font-size="7.8" text-anchor="middle" >COMPARISON - ENTANGLED FRACTION</text>
<text x="134.50" y="601.00" font-size="7.83" text-anchor="middle" >Entangled fraction (%) - Hi-C</text>
<text transform="translate(14.60,521.05) rotate(-90)" font-size="7.83" text-anchor="middle">Entangled fraction (%) - PDB</text>
<rect x="45.6" y="464" width="62" height="44" rx="1.4" fill="#fff" fill-opacity="0.8" stroke="#ccc" stroke-width="0.8"/>
<circle cx="51.6" cy="470.6" r="2.2" fill="#1f77b4"/>
<text x="58.00" y="473.30" font-size="7.3" text-anchor="start" >cell1</text>
<circle cx="51.6" cy="481" r="2.2" fill="#ff7f0e"/>
<text x="58.00" y="483.70" font-size="7.3" text-anchor="start" >cell2</text>
<circle cx="51.6" cy="491.4" r="2.2" fill="#2ca02c"/>
<text x="58.00" y="494.10" font-size="7.3" text-anchor="start" >cell3</text>
<circle cx="51.6" cy="502" r="2.2" fill="#d62728"/>
<text x="58.00" y="504.70" font-size="7.3" text-anchor="start" >cell4</text>
<circle cx="80.4" cy="470.6" r="2.2" fill="#9467bd"/>
<text x="86.40" y="473.30" font-size="7.3" text-anchor="start" >cell5</text>
<circle cx="80.4" cy="481" r="2.2" fill="#8c564b"/>
<text x="86.40" y="483.70" font-size="7.3" text-anchor="start" >cell6</text>
<circle cx="80.4" cy="491.4" r="2.2" fill="#e377c2"/>
<text x="86.40" y="494.10" font-size="7.3" text-anchor="start" >cell7</text>
<circle cx="80.4" cy="502" r="2.2" fill="#8f8f8f"/>
<text x="86.40" y="504.70" font-size="7.3" text-anchor="start" >cell8</text>
<clipPath id="cd"><rect x="269.8" y="460.5" width="187.89999999999998" height="121.10000000000002"/></clipPath>
<g clip-path="url(#cd)">
<polygon points="269.8,571.59 274.5,569.14 279.2,566.69 283.9,564.22 288.6,561.76 293.3,559.28 298.0,556.80 302.7,554.31 307.4,551.81 312.1,549.30 316.8,546.77 321.5,544.24 326.2,541.69 330.9,539.13 335.6,536.55 340.3,533.97 345.0,531.38 349.7,528.78 354.4,526.16 359.1,523.55 363.8,520.92 368.4,518.30 373.1,515.66 377.8,513.03 382.5,510.39 387.2,507.74 391.9,505.10 396.6,502.45 401.3,499.80 406.0,497.15 410.7,494.50 415.4,491.84 420.1,489.19 424.8,486.53 429.5,483.87 434.2,481.22 438.9,478.56 443.6,475.90 448.3,473.24 453.0,470.58 457.7,467.92 457.7,475.76 453.0,478.18 448.3,480.60 443.6,483.03 438.9,485.45 434.2,487.87 429.5,490.30 424.8,492.72 420.1,495.15 415.4,497.58 410.7,500.01 406.0,502.44 401.3,504.87 396.6,507.30 391.9,509.74 387.2,512.17 382.5,514.61 377.8,517.06 373.1,519.50 368.4,521.95 363.8,524.41 359.1,526.86 354.4,529.33 349.7,531.80 345.0,534.28 340.3,536.77 335.6,539.27 330.9,541.78 326.2,544.30 321.5,546.84 316.8,549.38 312.1,551.94 307.4,554.51 302.7,557.09 298.0,559.69 293.3,562.29 288.6,564.89 283.9,567.51 279.2,570.13 274.5,572.76 269.8,575.39" fill="#a9c8ea"/>
<circle cx="271.0" cy="568.2" r="1.8" fill="#1f77b4"/>
<circle cx="269.2" cy="572.2" r="1.8" fill="#1f77b4"/>
<circle cx="272.2" cy="573.9" r="1.8" fill="#1f77b4"/>
<circle cx="278.0" cy="572.2" r="1.8" fill="#1f77b4"/>
<circle cx="281.0" cy="572.9" r="1.8" fill="#1f77b4"/>
<circle cx="282.0" cy="575.1" r="1.8" fill="#1f77b4"/>
<circle cx="284.7" cy="571.8" r="1.8" fill="#1f77b4"/>
<circle cx="280.6" cy="568.6" r="1.8" fill="#1f77b4"/>
<circle cx="281.8" cy="567.2" r="1.8" fill="#1f77b4"/>
<circle cx="280.6" cy="564.3" r="1.8" fill="#1f77b4"/>
<circle cx="283.0" cy="562.8" r="1.8" fill="#1f77b4"/>
<circle cx="285.0" cy="563.9" r="1.8" fill="#1f77b4"/>
<circle cx="283.5" cy="558.7" r="1.8" fill="#1f77b4"/>
<circle cx="285.9" cy="567.8" r="1.8" fill="#1f77b4"/>
<circle cx="287.1" cy="566.1" r="1.8" fill="#1f77b4"/>
<circle cx="287.9" cy="562.1" r="1.8" fill="#1f77b4"/>
<circle cx="287.1" cy="554.5" r="1.8" fill="#1f77b4"/>
<circle cx="289.6" cy="556.7" r="1.8" fill="#1f77b4"/>
<circle cx="291.9" cy="556.4" r="1.8" fill="#1f77b4"/>
<circle cx="293.5" cy="557.7" r="1.8" fill="#1f77b4"/>
<circle cx="291.9" cy="558.8" r="1.8" fill="#1f77b4"/>
<circle cx="292.5" cy="568.9" r="1.8" fill="#1f77b4"/>
<circle cx="289.6" cy="563.9" r="1.8" fill="#1f77b4"/>
<circle cx="289.6" cy="567.8" r="1.8" fill="#1f77b4"/>
<circle cx="291.9" cy="563.9" r="1.8" fill="#1f77b4"/>
<circle cx="293.1" cy="561.0" r="1.8" fill="#1f77b4"/>
<circle cx="295.5" cy="561.4" r="1.8" fill="#1f77b4"/>
<circle cx="294.8" cy="564.3" r="1.8" fill="#1f77b4"/>
<circle cx="296.0" cy="566.5" r="1.8" fill="#1f77b4"/>
<circle cx="297.6" cy="563.2" r="1.8" fill="#1f77b4"/>
<circle cx="299.2" cy="565.4" r="1.8" fill="#1f77b4"/>
<circle cx="299.6" cy="561.0" r="1.8" fill="#1f77b4"/>
<circle cx="295.2" cy="553.8" r="1.8" fill="#1f77b4"/>
<circle cx="299.2" cy="552.3" r="1.8" fill="#1f77b4"/>
<circle cx="302.4" cy="557.0" r="1.8" fill="#1f77b4"/>
<circle cx="303.3" cy="559.2" r="1.8" fill="#1f77b4"/>
<circle cx="305.3" cy="558.8" r="1.8" fill="#1f77b4"/>
<circle cx="304.5" cy="561.0" r="1.8" fill="#1f77b4"/>
<circle cx="302.4" cy="563.2" r="1.8" fill="#1f77b4"/>
<circle cx="301.2" cy="562.5" r="1.8" fill="#1f77b4"/>
<circle cx="307.3" cy="563.9" r="1.8" fill="#1f77b4"/>
<circle cx="301.0" cy="548.0" r="1.8" fill="#1f77b4"/>
<circle cx="302.9" cy="546.9" r="1.8" fill="#1f77b4"/>
<circle cx="308.0" cy="544.8" r="1.8" fill="#1f77b4"/>
<circle cx="308.9" cy="547.6" r="1.8" fill="#1f77b4"/>
<circle cx="308.4" cy="553.8" r="1.8" fill="#1f77b4"/>
<circle cx="307.7" cy="555.6" r="1.8" fill="#1f77b4"/>
<circle cx="312.1" cy="555.6" r="1.8" fill="#1f77b4"/>
<circle cx="313.8" cy="552.3" r="1.8" fill="#1f77b4"/>
<circle cx="315.3" cy="549.4" r="1.8" fill="#1f77b4"/>
<circle cx="317.3" cy="550.2" r="1.8" fill="#1f77b4"/>
<circle cx="312.1" cy="546.5" r="1.8" fill="#1f77b4"/>
<circle cx="314.1" cy="542.9" r="1.8" fill="#1f77b4"/>
<circle cx="313.3" cy="539.3" r="1.8" fill="#1f77b4"/>
<circle cx="316.6" cy="540.2" r="1.8" fill="#1f77b4"/>
<circle cx="311.4" cy="542.9" r="1.8" fill="#1f77b4"/>
<circle cx="317.0" cy="534.9" r="1.8" fill="#1f77b4"/>
<circle cx="324.0" cy="541.9" r="1.8" fill="#1f77b4"/>
<circle cx="326.1" cy="541.0" r="1.8" fill="#1f77b4"/>
<circle cx="329.1" cy="540.3" r="1.8" fill="#1f77b4"/>
<circle cx="323.2" cy="545.6" r="1.8" fill="#1f77b4"/>
<circle cx="324.6" cy="546.8" r="1.8" fill="#1f77b4"/>
<circle cx="323.2" cy="550.7" r="1.8" fill="#1f77b4"/>
<circle cx="330.1" cy="543.6" r="1.8" fill="#1f77b4"/>
<circle cx="329.7" cy="546.8" r="1.8" fill="#1f77b4"/>
<circle cx="330.4" cy="547.8" r="1.8" fill="#1f77b4"/>
<circle cx="332.7" cy="542.3" r="1.8" fill="#1f77b4"/>
<circle cx="334.8" cy="544.9" r="1.8" fill="#1f77b4"/>
<circle cx="335.9" cy="546.1" r="1.8" fill="#1f77b4"/>
<circle cx="332.7" cy="550.5" r="1.8" fill="#1f77b4"/>
<circle cx="335.1" cy="550.5" r="1.8" fill="#1f77b4"/>
<circle cx="339.2" cy="549.2" r="1.8" fill="#1f77b4"/>
<circle cx="334.4" cy="533.6" r="1.8" fill="#1f77b4"/>
<circle cx="336.7" cy="537.0" r="1.8" fill="#1f77b4"/>
<circle cx="340.3" cy="541.0" r="1.8" fill="#1f77b4"/>
<circle cx="347.2" cy="541.0" r="1.8" fill="#1f77b4"/>
<circle cx="343.6" cy="533.2" r="1.8" fill="#1f77b4"/>
<circle cx="343.9" cy="527.3" r="1.8" fill="#1f77b4"/>
<circle cx="348.2" cy="524.0" r="1.8" fill="#1f77b4"/>
<circle cx="350.9" cy="527.3" r="1.8" fill="#1f77b4"/>
<circle cx="353.4" cy="526.6" r="1.8" fill="#1f77b4"/>
<circle cx="355.9" cy="530.6" r="1.8" fill="#1f77b4"/>
<circle cx="355.2" cy="532.5" r="1.8" fill="#1f77b4"/>
<circle cx="354.5" cy="534.2" r="1.8" fill="#1f77b4"/>
<circle cx="346.2" cy="512.0" r="1.8" fill="#1f77b4"/>
<circle cx="456.4" cy="465.3" r="1.8" fill="#1f77b4"/>
<circle cx="458.1" cy="469.0" r="1.8" fill="#1f77b4"/>
<circle cx="455.2" cy="476.4" r="1.8" fill="#1f77b4"/>
<circle cx="412.4" cy="489.2" r="1.8" fill="#1f77b4"/>
<circle cx="366.5" cy="507.3" r="1.8" fill="#1f77b4"/>
<circle cx="372.7" cy="507.1" r="1.8" fill="#1f77b4"/>
<circle cx="382.6" cy="506.4" r="1.8" fill="#1f77b4"/>
<circle cx="387.6" cy="509.6" r="1.8" fill="#1f77b4"/>
<circle cx="369.0" cy="517.3" r="1.8" fill="#1f77b4"/>
<circle cx="375.0" cy="516.0" r="1.8" fill="#1f77b4"/>
<circle cx="361.7" cy="522.7" r="1.8" fill="#1f77b4"/>
<circle cx="366.2" cy="522.7" r="1.8" fill="#1f77b4"/>
<circle cx="368.6" cy="524.1" r="1.8" fill="#1f77b4"/>
<circle cx="374.1" cy="524.0" r="1.8" fill="#1f77b4"/>
<circle cx="377.9" cy="523.7" r="1.8" fill="#1f77b4"/>
<circle cx="383.4" cy="524.0" r="1.8" fill="#1f77b4"/>
<circle cx="360.5" cy="525.8" r="1.8" fill="#1f77b4"/>
<circle cx="361.5" cy="527.1" r="1.8" fill="#1f77b4"/>
<line x1="269.8" y1="573.49" x2="457.7" y2="471.84" stroke="#1f77b4" stroke-width="1.5"/>
</g>
<rect x="269.80" y="460.50" width="187.90" height="121.10" fill="none" stroke="#0a0a0a" stroke-width="1.2"/>
<line x1="267.75" y1="578.00" x2="269.80" y2="578.00" stroke="#0a0a0a" stroke-width="1.0"/>
<text x="249.25" y="580.86" font-size="7.3" textLength="16.25" lengthAdjust="spacingAndGlyphs" >0.05</text>
<line x1="267.75" y1="561.74" x2="269.80" y2="561.74" stroke="#0a0a0a" stroke-width="1.0"/>
<text x="249.25" y="564.60" font-size="7.3" textLength="16.25" lengthAdjust="spacingAndGlyphs" >0.10</text>
<line x1="267.75" y1="545.47" x2="269.80" y2="545.47" stroke="#0a0a0a" stroke-width="1.0"/>
<text x="249.25" y="548.33" font-size="7.3" textLength="16.25" lengthAdjust="spacingAndGlyphs" >0.15</text>
<line x1="267.75" y1="529.21" x2="269.80" y2="529.21" stroke="#0a0a0a" stroke-width="1.0"/>
<text x="249.25" y="532.07" font-size="7.3" textLength="16.25" lengthAdjust="spacingAndGlyphs" >0.20</text>
<line x1="267.75" y1="512.94" x2="269.80" y2="512.94" stroke="#0a0a0a" stroke-width="1.0"/>
<text x="249.25" y="515.80" font-size="7.3" textLength="16.25" lengthAdjust="spacingAndGlyphs" >0.25</text>
<line x1="267.75" y1="496.68" x2="269.80" y2="496.68" stroke="#0a0a0a" stroke-width="1.0"/>
<text x="249.25" y="499.54" font-size="7.3" textLength="16.25" lengthAdjust="spacingAndGlyphs" >0.30</text>
<line x1="267.75" y1="480.41" x2="269.80" y2="480.41" stroke="#0a0a0a" stroke-width="1.0"/>
<text x="249.25" y="483.27" font-size="7.3" textLength="16.25" lengthAdjust="spacingAndGlyphs" >0.35</text>
<line x1="267.75" y1="464.14" x2="269.80" y2="464.14" stroke="#0a0a0a" stroke-width="1.0"/>
<text x="249.25" y="467.01" font-size="7.3" textLength="16.25" lengthAdjust="spacingAndGlyphs" >0.40</text>
<line x1="272.50" y1="581.60" x2="272.50" y2="584.00" stroke="#0a0a0a" stroke-width="1.0"/>
<text x="262.05" y="591.50" font-size="7.3" textLength="20.90" lengthAdjust="spacingAndGlyphs" >0.025</text>
<line x1="299.80" y1="581.60" x2="299.80" y2="584.00" stroke="#0a0a0a" stroke-width="1.0"/>
<text x="289.35" y="591.50" font-size="7.3" textLength="20.90" lengthAdjust="spacingAndGlyphs" >0.050</text>
<line x1="327.10" y1="581.60" x2="327.10" y2="584.00" stroke="#0a0a0a" stroke-width="1.0"/>
<text x="316.65" y="591.50" font-size="7.3" textLength="20.90" lengthAdjust="spacingAndGlyphs" >0.075</text>
<line x1="354.40" y1="581.60" x2="354.40" y2="584.00" stroke="#0a0a0a" stroke-width="1.0"/>
<text x="343.95" y="591.50" font-size="7.3" textLength="20.90" lengthAdjust="spacingAndGlyphs" >0.100</text>
<line x1="381.70" y1="581.60" x2="381.70" y2="584.00" stroke="#0a0a0a" stroke-width="1.0"/>
<text x="371.25" y="591.50" font-size="7.3" textLength="20.90" lengthAdjust="spacingAndGlyphs" >0.125</text>
<line x1="409.00" y1="581.60" x2="409.00" y2="584.00" stroke="#0a0a0a" stroke-width="1.0"/>
<text x="398.55" y="591.50" font-size="7.3" textLength="20.90" lengthAdjust="spacingAndGlyphs" >0.150</text>
<line x1="436.30" y1="581.60" x2="436.30" y2="584.00" stroke="#0a0a0a" stroke-width="1.0"/>
<text x="425.85" y="591.50" font-size="7.3" textLength="20.90" lengthAdjust="spacingAndGlyphs" >0.175</text>
<text x="363.75" y="457.00" font-size="7.8" text-anchor="middle" >COMPARISON - ENTANGLED FRACTION</text>
<text x="363.75" y="600.90" font-size="7.83" text-anchor="middle" >Entangled fraction (%) - Hi-C</text>
<text transform="translate(243.60,521.05) rotate(-90)" font-size="7.83" text-anchor="middle">Entangled fraction (%) - PDB</text>
<rect x="273" y="463.6" width="115" height="12.8" rx="1.4" fill="#fff" fill-opacity="0.8" stroke="#ccc" stroke-width="0.8"/>
<circle cx="283.6" cy="470.4" r="1.4" fill="#1f77b4"/>
<text x="296.60" y="473.00" font-size="7.29" text-anchor="start" >corr = 0.96, p = 4.3E-78</text>
<clipPath id="ce"><rect x="495.9" y="462.7" width="187.5" height="121.19999999999999"/></clipPath>
<g clip-path="url(#ce)">
<polygon points="495.9,552.44 500.6,550.71 505.3,548.97 510.0,547.24 514.6,545.50 519.3,543.75 524.0,542.01 528.7,540.25 533.4,538.49 538.1,536.72 542.8,534.95 547.5,533.16 552.1,531.36 556.8,529.55 561.5,527.72 566.2,525.87 570.9,523.99 575.6,522.09 580.3,520.16 585.0,518.19 589.6,516.19 594.3,514.14 599.0,512.04 603.7,509.91 608.4,507.74 613.1,505.53 617.8,503.28 622.5,501.01 627.1,498.71 631.8,496.39 636.5,494.06 641.2,491.71 645.9,489.35 650.6,486.97 655.3,484.59 660.0,482.20 664.6,479.80 669.3,477.40 674.0,474.99 678.7,472.58 683.4,470.16 683.4,485.80 678.7,487.54 674.0,489.28 669.3,491.03 664.6,492.78 660.0,494.53 655.3,496.29 650.6,498.06 645.9,499.84 641.2,501.63 636.5,503.44 631.8,505.25 627.1,507.09 622.5,508.94 617.8,510.83 613.1,512.73 608.4,514.68 603.7,516.66 599.0,518.68 594.3,520.74 589.6,522.84 585.0,524.99 580.3,527.17 575.6,529.39 570.9,531.64 566.2,533.92 561.5,536.23 556.8,538.55 552.1,540.89 547.5,543.24 542.8,545.61 538.1,547.99 533.4,550.37 528.7,552.77 524.0,555.16 519.3,557.57 514.6,559.98 510.0,562.39 505.3,564.81 500.6,567.23 495.9,569.65" fill="#b4d2b4"/>
<circle cx="504.0" cy="553.4" r="2.6" fill="#15803d"/>
<circle cx="531.2" cy="539.4" r="2.6" fill="#15803d"/>
<circle cx="535.6" cy="543.4" r="2.6" fill="#15803d"/>
<circle cx="553.8" cy="525.6" r="2.6" fill="#15803d"/>
<circle cx="557.4" cy="535.0" r="2.6" fill="#15803d"/>
<circle cx="564.0" cy="515.2" r="2.6" fill="#15803d"/>
<circle cx="572.4" cy="542.8" r="2.6" fill="#15803d"/>
<circle cx="576.4" cy="527.6" r="2.6" fill="#15803d"/>
<circle cx="586.4" cy="519.6" r="2.6" fill="#15803d"/>
<circle cx="592.6" cy="533.4" r="2.6" fill="#15803d"/>
<circle cx="597.0" cy="519.0" r="2.6" fill="#15803d"/>
<circle cx="599.6" cy="520.4" r="2.6" fill="#15803d"/>
<circle cx="603.0" cy="516.0" r="2.6" fill="#15803d"/>
<circle cx="606.2" cy="493.6" r="2.6" fill="#15803d"/>
<circle cx="610.2" cy="502.8" r="2.6" fill="#15803d"/>
<circle cx="623.0" cy="505.0" r="2.6" fill="#15803d"/>
<circle cx="625.0" cy="504.0" r="2.6" fill="#15803d"/>
<circle cx="667.0" cy="485.6" r="2.6" fill="#15803d"/>
<circle cx="683.4" cy="480.0" r="2.6" fill="#15803d"/>
<circle cx="496.0" cy="578.6" r="2.6" fill="#15803d"/>
<line x1="495.9" y1="561.04" x2="683.4" y2="477.98" stroke="#15803d" stroke-width="2.5"/>
</g>
<rect x="495.90" y="462.70" width="187.50" height="121.20" fill="none" stroke="#0a0a0a" stroke-width="1.2"/>
<line x1="493.85" y1="575.50" x2="495.90" y2="575.50" stroke="#0a0a0a" stroke-width="1.0"/>
<text x="475.35" y="578.36" font-size="7.3" textLength="16.25" lengthAdjust="spacingAndGlyphs" >0.10</text>
<line x1="493.85" y1="559.99" x2="495.90" y2="559.99" stroke="#0a0a0a" stroke-width="1.0"/>
<text x="475.35" y="562.85" font-size="7.3" textLength="16.25" lengthAdjust="spacingAndGlyphs" >0.12</text>
<line x1="493.85" y1="544.47" x2="495.90" y2="544.47" stroke="#0a0a0a" stroke-width="1.0"/>
<text x="475.35" y="547.34" font-size="7.3" textLength="16.25" lengthAdjust="spacingAndGlyphs" >0.14</text>
<line x1="493.85" y1="528.96" x2="495.90" y2="528.96" stroke="#0a0a0a" stroke-width="1.0"/>
<text x="475.35" y="531.82" font-size="7.3" textLength="16.25" lengthAdjust="spacingAndGlyphs" >0.16</text>
<line x1="493.85" y1="513.44" x2="495.90" y2="513.44" stroke="#0a0a0a" stroke-width="1.0"/>
<text x="475.35" y="516.31" font-size="7.3" textLength="16.25" lengthAdjust="spacingAndGlyphs" >0.18</text>
<line x1="493.85" y1="497.93" x2="495.90" y2="497.93" stroke="#0a0a0a" stroke-width="1.0"/>
<text x="475.35" y="500.79" font-size="7.3" textLength="16.25" lengthAdjust="spacingAndGlyphs" >0.20</text>
<line x1="493.85" y1="482.42" x2="495.90" y2="482.42" stroke="#0a0a0a" stroke-width="1.0"/>
<text x="475.35" y="485.28" font-size="7.3" textLength="16.25" lengthAdjust="spacingAndGlyphs" >0.22</text>
<line x1="493.85" y1="466.90" x2="495.90" y2="466.90" stroke="#0a0a0a" stroke-width="1.0"/>
<text x="475.35" y="469.77" font-size="7.3" textLength="16.25" lengthAdjust="spacingAndGlyphs" >0.24</text>
<line x1="528.90" y1="583.90" x2="528.90" y2="586.30" stroke="#0a0a0a" stroke-width="1.0"/>
<text x="520.77" y="593.60" font-size="7.3" textLength="16.25" lengthAdjust="spacingAndGlyphs" >0.10</text>
<line x1="564.84" y1="583.90" x2="564.84" y2="586.30" stroke="#0a0a0a" stroke-width="1.0"/>
<text x="556.71" y="593.60" font-size="7.3" textLength="16.25" lengthAdjust="spacingAndGlyphs" >0.12</text>
<line x1="600.78" y1="583.90" x2="600.78" y2="586.30" stroke="#0a0a0a" stroke-width="1.0"/>
<text x="592.65" y="593.60" font-size="7.3" textLength="16.25" lengthAdjust="spacingAndGlyphs" >0.14</text>
<line x1="636.72" y1="583.90" x2="636.72" y2="586.30" stroke="#0a0a0a" stroke-width="1.0"/>
<text x="628.59" y="593.60" font-size="7.3" textLength="16.25" lengthAdjust="spacingAndGlyphs" >0.16</text>
<line x1="672.66" y1="583.90" x2="672.66" y2="586.30" stroke="#0a0a0a" stroke-width="1.0"/>
<text x="664.53" y="593.60" font-size="7.3" textLength="16.25" lengthAdjust="spacingAndGlyphs" >0.18</text>
<text x="589.65" y="459.40" font-size="7.8" text-anchor="middle" >COMPARISON - ENTANGLED FRACTION, CELL 3</text>
<text x="589.65" y="603.30" font-size="7.83" text-anchor="middle" >Entangled fraction (%) - Hi-C</text>
<text transform="translate(471.00,523.30) rotate(-90)" font-size="7.83" text-anchor="middle">Entangled fraction (%) - PDB</text>
<rect x="499" y="466" width="116" height="13.4" rx="1.4" fill="#fff" fill-opacity="0.8" stroke="#ccc" stroke-width="0.8"/>
<circle cx="509.4" cy="472.6" r="2.6" fill="#15803d"/>
<text x="523.00" y="475.30" font-size="7.29" text-anchor="start" >corr = 0.92, p = 9.4E-09</text>
</g>
<g font-family="'Liberation Sans', 'DejaVu Sans', sans-serif" font-weight="bold" fill="#111">
<text x="205.4" y="13" font-size="12.8" textLength="78.2" lengthAdjust="spacingAndGlyphs">ENTANGLED</text>
<text x="287.4" y="13" font-size="12.8" textLength="68.2" lengthAdjust="spacingAndGlyphs">FRACTION</text>
<text x="359.8" y="13" font-size="12.8" textLength="5.8" lengthAdjust="spacingAndGlyphs">-</text>
<text x="368.8" y="13" font-size="12.8" textLength="27.4" lengthAdjust="spacingAndGlyphs">Hi-C</text>
<text x="399.4" y="13" font-size="12.8" textLength="49.6" lengthAdjust="spacingAndGlyphs">contact</text>
<text x="452.4" y="13" font-size="12.8" textLength="29.2" lengthAdjust="spacingAndGlyphs">map</text>
<text x="210.4" y="232.5" font-size="12.8" textLength="78.2" lengthAdjust="spacingAndGlyphs">ENTANGLED</text>
<text x="292.6" y="232.5" font-size="12.8" textLength="68.6" lengthAdjust="spacingAndGlyphs">FRACTION</text>
<text x="366.0" y="232.5" font-size="12.8" textLength="5.8" lengthAdjust="spacingAndGlyphs">-</text>
<text x="375.4" y="232.5" font-size="12.8" textLength="25.8" lengthAdjust="spacingAndGlyphs">PDB</text>
<text x="405.4" y="232.5" font-size="12.8" textLength="59.8" lengthAdjust="spacingAndGlyphs">structure</text>
<text transform="translate(-0.5,13.8) scale(0.97,1)" font-size="15.5" stroke="#111" stroke-width="0.3">A</text>
<text transform="translate(0.2,233.8) scale(0.85,1)" font-size="15.5" stroke="#111" stroke-width="0.3">B</text>
<text transform="translate(0.3,441.8) scale(0.83,1)" font-size="15.5" stroke="#111" stroke-width="0.3">C</text>
<text transform="translate(240.7,441.8) scale(0.96,1)" font-size="15.5" stroke="#111" stroke-width="0.3">D</text>
<text transform="translate(466.1,441.8) scale(0.8,1)" font-size="15.5" stroke="#111" stroke-width="0.3">E</text>
</g>
</svg>
</body></html>
